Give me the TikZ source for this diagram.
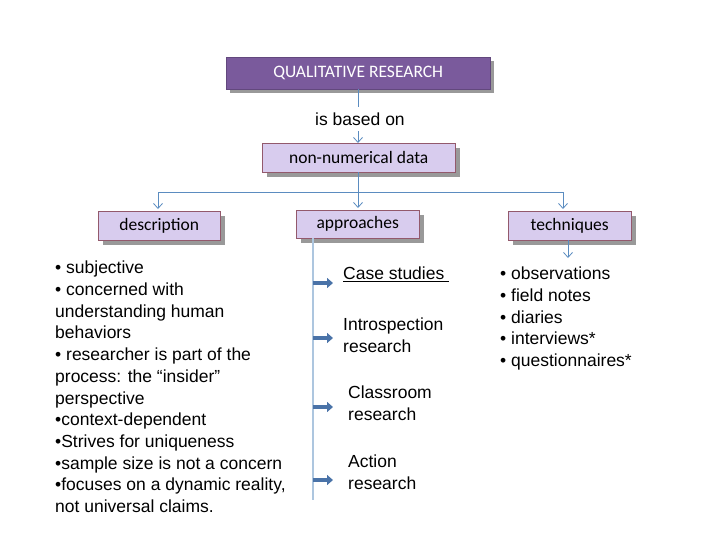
\documentclass[tikz,border=0pt]{standalone}
\usepackage{fontspec}
\setmainfont{Liberation Sans}
\newfontfamily\calfont{Carlito}
\usetikzlibrary{arrows.meta}
\definecolor{lin}{HTML}{5B8CC0}
\definecolor{pur}{HTML}{7A5A9C}
\definecolor{lav}{HTML}{D8CCEE}
\definecolor{thk}{HTML}{4A73A8}
\begin{document}
\begin{tikzpicture}[x=1pt,y=-1pt,
 box/.style={draw=gray!70!purple,fill=lav,minimum height=28pt,font=\calfont\fontsize{17.5}{19}\selectfont,inner sep=0pt},
 sh/.style={fill=gray!80},
 ar/.style={draw=lin,line width=0.8pt,-{Straight Barb[length=5pt,width=9pt]}},
 tk/.style={draw=thk,line width=4pt,-{Triangle[length=6pt,width=10pt]}},
 tx/.style={font=\fontsize{17.5}{21.7}\selectfont,anchor=north west,align=left,inner sep=0pt}]
\useasboundingbox (0,0) rectangle (728,546);
\fill[sh] (230,61) rectangle (494,93);
\node[box,fill=pur,draw=pur!80!black,text=white,minimum width=264pt,minimum height=32pt,anchor=north west] (q) at (226,57) {QUALITATIVE RESEARCH};
\fill[sh] (267,148) rectangle (460,177);
\node[box,minimum width=193pt,minimum height=29pt,anchor=north west] (n) at (262,143) {non-numerical data};
\fill[sh] (103,216) rectangle (225,245);
\node[box,minimum width=122pt,minimum height=29pt,anchor=north west] (d) at (98,211) {description};
\fill[sh] (301,215) rectangle (424,243);
\node[box,minimum width=123pt,anchor=north west] (a) at (296,210) {approaches};
\fill[sh] (513,216) rectangle (636,245);
\node[box,minimum width=123pt,minimum height=29pt,anchor=north west] (t) at (508,211) {techniques};
\node[font=\fontsize{17.5}{19}\selectfont,fill=white,inner sep=1pt] (ib) at (360,119) {is based on};
\draw[lin,line width=0.8pt] (358,89) -- (358,107);
\draw[ar] (358,131) -- (358,143);
\coordinate (h) at (358,192);
\draw[lin,line width=0.8pt] (358,172) -- (h) (158,192) -- (563,192);
\draw[ar] (158,192) -- (158,209);
\draw[ar] (358,192) -- (358,208);
\draw[ar] (563,192) -- (563,209);
\draw[ar] (568,240) -- (568,258);
\draw[lin!50,line width=1.2pt] (313,238) -- (313,500);
\foreach \y in {283,338,407,480} \draw[tk] (313,\y) -- (333,\y);
\node[tx] (l) at (55,261) {• subjective\\• concerned with\\understanding human\\behaviors\\• researcher is part of the\\process: the “insider”\\perspective\\•context-dependent\\•Strives for uniqueness\\•sample size is not a concern\\•focuses on a dynamic reality,\\not universal claims.};
\node[tx] (r) at (500,267) {• observations\\• field notes\\• diaries\\• interviews*\\• questionnaires*};
\node[tx] (c1) at (343,267) {\underline{Case studies }};
\node[tx] (c2) at (343,318) {Introspection\\research};
\node[tx] (c3) at (348,386) {Classroom\\research};
\node[tx] (c4) at (348,455) {Action\\research};
\end{tikzpicture}
\end{document}
